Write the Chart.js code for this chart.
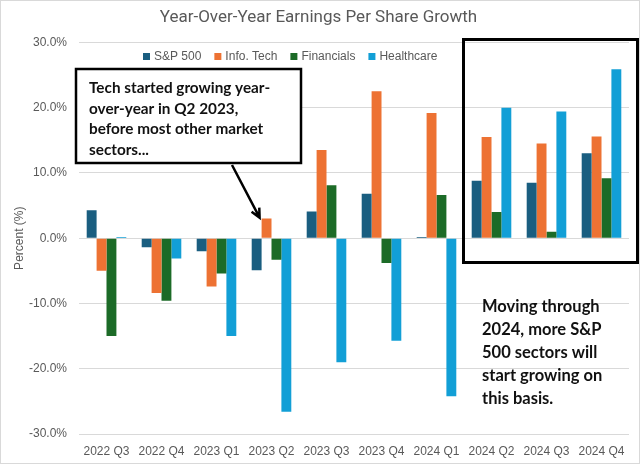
<!DOCTYPE html>
<html>
<head>
<meta charset="utf-8">
<script src="https://cdn.jsdelivr.net/npm/chart.js@4.4.1/dist/chart.umd.min.js"></script>
<style>
    html, body { margin: 0; padding: 0; background: #fff; }
    canvas { display: block; }
</style>
</head>
<body>
<canvas id="epsChart" width="640" height="464"></canvas>
<script>
const quarters = ["2022 Q3", "2022 Q4", "2023 Q1", "2023 Q2", "2023 Q3", "2023 Q4", "2024 Q1", "2024 Q2", "2024 Q3", "2024 Q4"];
const sp500 = [4.3, -1.4, -2.0, -4.9, 4.1, 6.8, 0.2, 8.8, 8.5, 13.0];
const infoTech = [-5.0, -8.4, -7.4, 3.0, 13.5, 22.5, 19.2, 15.5, 14.5, 15.6];
const financials = [-15.0, -9.6, -5.4, -3.3, 8.1, -3.8, 6.6, 4.0, 1.0, 9.2];
const healthcare = [0.2, -3.1, -15.0, -26.6, -19.0, -15.7, -24.2, 20.0, 19.4, 25.9];
const seriesNames = ["S&P 500", "Info. Tech", "Financials", "Healthcare"];
const seriesColors = ["#1a5e80", "#ed7233", "#1c6b27", "#129fd6"];

const techNote = ["Tech started growing year-", "over-year in Q2 2023,", "before most other market", "sectors..."];
const outlookNote = ["Moving through", "2024, more S&P", "500 sectors will", "start growing on", "this basis."];

const grey = "#595959";

// Legend, call-out boxes and arrow drawn on top of the chart.
const notesPlugin = {
    id: "notes",
    beforeDraw(chart) {
        const ctx = chart.ctx;
        ctx.save();
        ctx.fillStyle = "#fff";
        ctx.fillRect(0, 0, chart.width, chart.height);
        ctx.restore();
    },
    afterDraw(chart) {
        const ctx = chart.ctx;
        ctx.save();

        // legend inside the plot
        ctx.font = "12px 'Liberation Sans', Arial, sans-serif";
        ctx.textBaseline = "middle";
        ctx.textAlign = "left";
        let x = 143;
        seriesNames.forEach((name, i) => {
            ctx.fillStyle = seriesColors[i];
            ctx.fillRect(x, 53, 7, 7);
            ctx.fillStyle = grey;
            ctx.fillText(name, x + 11, 57);
            x += 11 + ctx.measureText(name).width + 13;
        });

        // tech call-out
        ctx.strokeStyle = "#000";
        ctx.lineWidth = 2.5;
        ctx.fillStyle = "#fff";
        ctx.fillRect(76, 69, 225, 94);
        ctx.strokeRect(76, 69, 225, 94);
        ctx.fillStyle = "#111";
        ctx.font = "bold 15.3px Lato, sans-serif";
        techNote.forEach((line, i) => ctx.fillText(line, 89, 88 + i * 20.7));

        // arrow to the Q2 2023 tech bar
        const bar = chart.getDatasetMeta(1).data[3];
        const tipX = bar.x - bar.width / 2 - 2;
        const tipY = bar.y - 1;
        const fromX = 232, fromY = 165;
        const ang = Math.atan2(tipY - fromY, tipX - fromX);
        ctx.beginPath();
        ctx.moveTo(fromX, fromY);
        ctx.lineTo(tipX, tipY);
        ctx.moveTo(tipX - 10 * Math.cos(ang - 0.45), tipY - 10 * Math.sin(ang - 0.45));
        ctx.lineTo(tipX, tipY);
        ctx.lineTo(tipX - 10 * Math.cos(ang + 0.45), tipY - 10 * Math.sin(ang + 0.45));
        ctx.stroke();

        // box around 2024 Q2-Q4
        ctx.lineWidth = 3;
        ctx.strokeRect(463.5, 39.5, 174, 223);

        // outlook text
        ctx.font = "bold 16.5px Lato, sans-serif";
        outlookNote.forEach((line, i) => ctx.fillText(line, 482, 307 + i * 22.8));

        // outer frame
        ctx.lineWidth = 1;
        ctx.strokeStyle = "#d9d9d9";
        ctx.strokeRect(0.5, 0.5, chart.width - 1, chart.height - 1);
        ctx.restore();
    }
};

const ctx = document.getElementById("epsChart").getContext("2d");
new Chart(ctx, {
    type: "bar",
    data: {
        labels: quarters,
        datasets: [sp500, infoTech, financials, healthcare].map((values, i) => ({
            label: seriesNames[i],
            data: values,
            backgroundColor: seriesColors[i],
            borderWidth: 0,
            barPercentage: 1,
            categoryPercentage: 0.72,
        })),
    },
    options: {
        responsive: false,
        animation: false,
        layout: { padding: { left: 8, right: 11, top: 0, bottom: 0 } },
        plugins: {
            legend: { display: false },
            tooltip: { enabled: false },
            title: {
                display: true,
                text: "Year-Over-Year Earnings Per Share Growth",
                color: grey,
                font: { family: "Roboto, sans-serif", size: 17, weight: "normal" },
                padding: { top: 8, bottom: 14 },
            },
        },
        scales: {
            x: {
                afterFit: (scale) => { scale.height = 30; },
                grid: { display: false },
                border: { display: false },
                ticks: {
                    color: grey,
                    padding: 2,
                    maxRotation: 0,
                    font: { family: "'Liberation Sans', Arial, sans-serif", size: 12 },
                },
            },
            y: {
                min: -30,
                max: 30,
                afterFit: (scale) => { scale.width = 71; },
                grid: { color: "#d9d9d9", drawTicks: false },
                border: { display: false },
                ticks: {
                    stepSize: 10,
                    color: grey,
                    padding: 12,
                    font: { family: "'Liberation Sans', Arial, sans-serif", size: 12 },
                    callback: (v) => v.toFixed(1) + "%",
                },
                title: {
                    display: true,
                    text: "Percent (%)",
                    color: grey,
                    padding: 4,
                    font: { family: "'Liberation Sans', Arial, sans-serif", size: 12 },
                },
            },
        },
    },
    plugins: [notesPlugin],
});
</script>
</body>
</html>
